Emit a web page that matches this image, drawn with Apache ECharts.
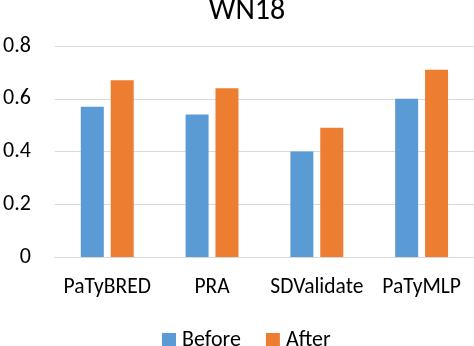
<!DOCTYPE html>
<html><head><meta charset="utf-8">
<script src="https://cdn.jsdelivr.net/npm/echarts@6/dist/echarts.min.js"></script>
<style>html,body{margin:0;padding:0;background:#fff}#c{width:474px;height:346px}</style>
</head><body><div id="c"></div>
<script>
const categories = ['PaTyBRED', 'PRA', 'SDValidate', 'PaTyMLP'];
const beforeValues = [0.57, 0.54, 0.40, 0.60];
const afterValues = [0.67, 0.64, 0.49, 0.71];
const yTicks = { min: 0, max: 0.8, interval: 0.2 };
const seriesNames = ['Before', 'After'];

const FONT = 'Carlito, Lato, "Open Sans", sans-serif';
const chart = echarts.init(document.getElementById('c'), null, { renderer: 'canvas' });
chart.setOption({
  animation: false,
  backgroundColor: '#fff',
  color: ['#5B9BD5', '#ED7D31'],
  title: {
    text: 'WN18', left: 242, top: -9, textAlign: 'center',
    textStyle: { fontFamily: FONT, fontSize: 30, fontWeight: 'normal', color: '#000' }
  },
  legend: {
    data: seriesNames, left: 157, top: 324,
    itemWidth: 14, itemHeight: 14, itemGap: 25, icon: 'rect',
    textStyle: { fontFamily: FONT, fontSize: 22, color: '#000', padding: [0, 0, 0, 1] }
  },
  grid: { left: 49.5, right: 0, top: 46, bottom: 89, containLabel: false },
  xAxis: {
    type: 'category', data: categories,
    axisLine: { show: true, lineStyle: { color: '#D9D9D9', width: 1 } },
    axisTick: { show: false },
    axisLabel: { interval: 0, fontFamily: FONT, fontSize: 21.5, color: '#000', margin: 20 }
  },
  yAxis: {
    type: 'value', min: yTicks.min, max: yTicks.max, interval: yTicks.interval,
    axisLine: { show: false }, axisTick: { show: false },
    splitLine: { lineStyle: { color: '#D9D9D9', width: 1 } },
    axisLabel: { fontFamily: FONT, fontSize: 22, color: '#000', margin: 24 }
  },
  series: [
    { name: seriesNames[0], type: 'bar', data: beforeValues, barWidth: 23, barGap: '30%' },
    { name: seriesNames[1], type: 'bar', data: afterValues, barWidth: 23, barGap: '30%' }
  ]
});
</script></body></html>
